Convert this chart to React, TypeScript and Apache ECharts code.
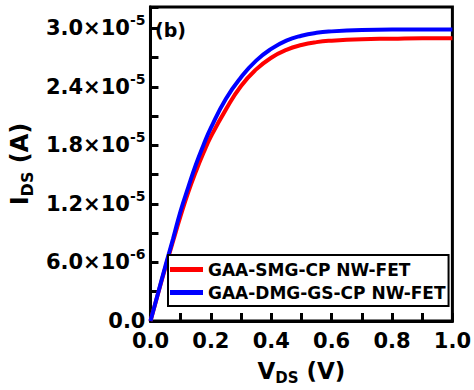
import React, { useEffect, useRef } from "react";
import * as echarts from "echarts";

const vds = [0, 0.025, 0.05, 0.075, 0.1, 0.125, 0.15, 0.175, 0.2, 0.25, 0.3, 0.35, 0.4, 0.45, 0.5, 0.55, 0.6, 0.7, 0.8, 0.9, 1.0];
const idsSMG = [0, 2.8e-6, 5.55e-6, 8.2e-6, 1.08e-5, 1.32e-5, 1.53e-5, 1.72e-5, 1.89e-5, 2.17e-5, 2.41e-5, 2.58e-5, 2.7e-5, 2.78e-5, 2.83e-5, 2.86e-5, 2.875e-5, 2.89e-5, 2.895e-5, 2.9e-5, 2.9e-5];
const idsDMG = [0, 2.85e-6, 5.7e-6, 8.45e-6, 1.13e-5, 1.37e-5, 1.6e-5, 1.8e-5, 1.98e-5, 2.28e-5, 2.5e-5, 2.67e-5, 2.79e-5, 2.875e-5, 2.925e-5, 2.955e-5, 2.97e-5, 2.985e-5, 2.99e-5, 2.99e-5, 2.99e-5];
const seriesNames = ["GAA-SMG-CP NW-FET", "GAA-DMG-GS-CP NW-FET"];
const yTickLabels = ["0.0", "6.0×10^-6", "1.2×10^-5", "1.8×10^-5", "2.4×10^-5", "3.0×10^-5"];
const xTickLabels = ["0.0", "0.2", "0.4", "0.6", "0.8", "1.0"];

const FONT = '"DejaVu Sans", "Liberation Sans", Arial, sans-serif';

export default function App() {
  const ref = useRef<HTMLDivElement>(null);
  useEffect(() => {
    if (!ref.current) return;
    const chart = echarts.init(ref.current, null, { renderer: "svg" });
    chart.setOption({
      animation: false,
      backgroundColor: "#fff",
      textStyle: { fontFamily: FONT },
      grid: {
        left: 140,
        right: 21,
        top: 7,
        bottom: 69,
        show: true,
        borderColor: "#000",
        borderWidth: 3,
      },
      legend: {
        orient: "vertical",
        left: 168,
        top: 255,
        padding: [6, 3, 5, 2],
        itemGap: 6,
        itemWidth: 33,
        itemHeight: 5,
        icon: "rect",
        borderColor: "#000",
        borderWidth: 2,
        backgroundColor: "#fff",
        textStyle: { fontSize: 17, fontWeight: "bold", color: "#000", fontFamily: FONT },
        data: seriesNames,
      },
      graphic: [
        {
          type: "text",
          left: 155,
          top: 20,
          style: { text: "(b)", font: `bold 19px ${FONT}`, fill: "#000" },
        },
      ],
      xAxis: {
        type: "value",
        min: 0,
        max: 1,
        interval: 0.1,
        name: "{a|V}{b|DS}{a| (V)}",
        nameLocation: "middle",
        nameGap: 36,
        nameTextStyle: {
          rich: {
            a: { fontSize: 23, fontWeight: "bold", color: "#000", fontFamily: FONT, lineHeight: 28 },
            b: { fontSize: 15, fontWeight: "bold", color: "#000", fontFamily: FONT, lineHeight: 28, verticalAlign: "bottom" },
          },
        },
        axisLine: { show: true, lineStyle: { color: "#000", width: 3 } },
        axisTick: { show: true, inside: true, length: 8, lineStyle: { color: "#000", width: 3 } },
        splitLine: { show: false },
        axisLabel: {
          margin: 9,
          fontSize: 21,
          fontWeight: "bold",
          color: "#000",
          fontFamily: FONT,
          formatter: (v: number) => {
            const k = Math.round(v * 10);
            if (k % 2 !== 0) return "";
            return xTickLabels[k / 2] ?? "";
          },
        },
      },
      yAxis: {
        type: "value",
        min: 0,
        max: 3.22e-5,
        interval: 3e-6,
        name: "{a|I}{b|DS}{a| (A)}",
        nameLocation: "middle",
        nameRotate: 90,
        nameGap: 115,
        nameTextStyle: {
          rich: {
            a: { fontSize: 24, fontWeight: "bold", color: "#000", fontFamily: FONT, lineHeight: 30 },
            b: { fontSize: 16, fontWeight: "bold", color: "#000", fontFamily: FONT, lineHeight: 30, verticalAlign: "bottom" },
          },
        },
        axisLine: { show: true, lineStyle: { color: "#000", width: 3 } },
        axisTick: { show: true, inside: true, length: 8, lineStyle: { color: "#000", width: 3 } },
        splitLine: { show: false },
        axisLabel: {
          margin: 5,
          formatter: (v: number) => {
            const k = Math.round(v / 3e-6);
            if (k % 2 !== 0 || Math.abs(v - k * 3e-6) > 1e-7) return "";
            const s = yTickLabels[k / 2];
            if (!s) return "";
            const parts = s.split("^");
            return parts.length > 1 ? `{m|${parts[0]}}{s|${parts[1]}}` : `{m|${parts[0]}}`;
          },
          rich: {
            m: { fontSize: 21, fontWeight: "bold", color: "#000", fontFamily: FONT, lineHeight: 30 },
            s: { fontSize: 14, fontWeight: "bold", color: "#000", fontFamily: FONT, lineHeight: 30, verticalAlign: "top" },
          },
        },
      },
      series: [
        {
          name: seriesNames[0],
          type: "line",
          smooth: true,
          showSymbol: false,
          color: "#ff0000",
          lineStyle: { width: 4, color: "#ff0000" },
          data: vds.map((v, i) => [v, idsSMG[i]]),
        },
        {
          name: seriesNames[1],
          type: "line",
          smooth: true,
          showSymbol: false,
          color: "#0000ff",
          lineStyle: { width: 4, color: "#0000ff" },
          data: vds.map((v, i) => [v, idsDMG[i]]),
        },
      ],
    });
    return () => chart.dispose();
  }, []);
  return <div ref={ref} style={{ width: 474, height: 390, position: "fixed", left: 0, top: 0 }} />;
}
